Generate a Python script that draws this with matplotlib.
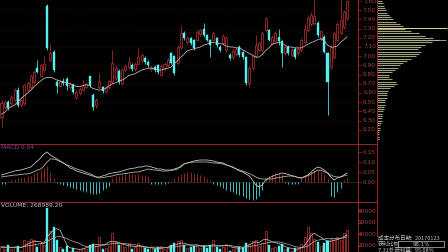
import matplotlib
matplotlib.use("Agg")
import matplotlib.pyplot as plt
from matplotlib.lines import Line2D
from matplotlib.transforms import blended_transform_factory

# ---- candle data ----
opens = [6.34, 6.45, 6.50, 6.49, 6.52, 6.63, 6.47, 6.49, 6.63, 6.66,
         6.72, 6.87, 6.79, 6.85, 7.55, 6.96, 7.05, 6.72, 6.68, 6.73,
         6.75, 6.66, 6.69, 6.56, 6.60, 6.63, 6.67, 6.78, 6.58, 6.47,
         6.66, 6.66, 6.62, 6.66, 6.72, 6.76, 6.84, 6.71, 6.85, 6.88,
         6.90, 6.86, 6.92, 6.96, 6.98, 6.94, 6.86,
         6.88, 6.90, 6.80, 6.87, 6.90, 7.03, 7.00, 6.93, 7.10, 7.25,
         7.15, 7.20, 7.18, 7.18, 7.24, 7.30, 7.23, 7.18, 7.18, 7.20,
         7.10, 7.14, 7.07, 7.01, 6.99, 7.02, 7.10, 7.05, 6.99, 6.71,
         6.87, 7.00, 7.07, 7.07, 7.28, 7.28, 7.14, 7.17, 7.21, 7.16,
         7.03, 7.10, 7.01, 7.08, 7.03, 7.07, 7.15, 7.28, 7.35, 7.36,
         7.36, 7.19, 7.21, 7.03, 6.88, 6.99, 7.18, 7.25, 7.32, 7.41]
highs = [6.52, 6.52, 6.52, 6.58, 6.65, 6.66, 6.54, 6.70, 6.73, 6.81,
         6.85, 6.96, 6.93, 7.00, 7.57, 7.13, 7.07, 6.75, 6.75, 6.76,
         6.77, 6.72, 6.71, 6.63, 6.66, 6.74, 6.72, 6.79, 6.60, 6.55,
         6.82, 6.68, 6.68, 6.75, 7.07, 6.90, 6.86, 6.87, 6.91, 6.99,
         6.93, 6.94, 7.09, 7.03, 7.00, 6.96, 6.90,
         6.90, 6.92, 6.91, 6.94, 6.98, 7.05, 7.01, 7.12, 7.34, 7.27,
         7.22, 7.21, 7.19, 7.28, 7.30, 7.36, 7.24, 7.19, 7.27, 7.21,
         7.12, 7.24, 7.22, 7.03, 7.08, 7.10, 7.12, 7.06, 7.00, 6.89,
         7.02, 7.23, 7.16, 7.27, 7.43, 7.30, 7.23, 7.27, 7.30, 7.18,
         7.12, 7.12, 7.09, 7.10, 7.10, 7.20, 7.35, 7.45, 7.48, 7.61,
         7.38, 7.29, 7.23, 7.05, 7.12, 7.27, 7.37, 7.61, 7.50, 7.61]
lows = [6.23, 6.43, 6.42, 6.47, 6.50, 6.45, 6.45, 6.47, 6.61, 6.64,
        6.70, 6.82, 6.77, 6.83, 7.07, 6.94, 6.83, 6.60, 6.66, 6.69,
        6.63, 6.64, 6.59, 6.54, 6.58, 6.62, 6.65, 6.67, 6.42, 6.44,
        6.64, 6.60, 6.60, 6.64, 6.70, 6.74, 6.70, 6.69, 6.83, 6.86,
        6.84, 6.84, 6.90, 6.94, 6.92, 6.88, 6.84,
        6.83, 6.81, 6.78, 6.85, 6.88, 6.91, 6.80, 6.90, 7.08, 7.18,
        7.13, 7.12, 7.07, 7.16, 7.22, 7.21, 7.16, 6.99, 7.16, 7.10,
        7.05, 7.12, 7.05, 6.96, 6.97, 7.00, 6.99, 6.97, 6.69, 6.67,
        6.85, 6.98, 7.05, 7.05, 7.26, 7.16, 7.12, 7.15, 7.12, 6.88,
        7.01, 7.01, 6.99, 6.97, 7.01, 7.05, 7.13, 7.26, 7.33, 7.34,
        7.21, 7.17, 7.03, 6.36, 6.86, 6.97, 7.16, 7.23, 7.30, 7.39]
closes = [6.49, 6.50, 6.44, 6.56, 6.63, 6.47, 6.52, 6.69, 6.71, 6.79,
          6.83, 6.83, 6.90, 6.92, 7.09, 7.03, 6.85, 6.68, 6.73, 6.71,
          6.68, 6.70, 6.61, 6.61, 6.64, 6.68, 6.70, 6.69, 6.45, 6.52,
          6.72, 6.62, 6.66, 6.73, 6.93, 6.87, 6.72, 6.85, 6.89, 6.94,
          6.86, 6.92, 6.99, 7.01, 6.94, 6.90, 6.88,
          6.85, 6.83, 6.89, 6.92, 6.96, 6.93, 6.82, 7.10, 7.25, 7.20,
          7.20, 7.14, 7.09, 7.26, 7.28, 7.23, 7.18, 7.12, 7.25, 7.12,
          7.07, 7.22, 7.20, 6.98, 7.06, 7.08, 7.01, 6.99, 6.71, 6.87,
          7.00, 7.12, 7.14, 7.25, 7.41, 7.18, 7.21, 7.25, 7.16, 7.03,
          7.10, 7.03, 7.07, 6.99, 7.08, 7.18, 7.30, 7.42, 7.45, 7.44,
          7.23, 7.27, 7.05, 6.72, 7.10, 7.25, 7.35, 7.39, 7.48, 7.60]
ma_line = [6.37, 6.39, 6.43, 6.45, 6.47, 6.50, 6.54, 6.57, 6.60, 6.63,
           6.67, 6.70, 6.73, 6.76, 6.77, 6.77, 6.76, 6.74, 6.73, 6.72,
           6.71, 6.70, 6.69, 6.67, 6.67, 6.68, 6.69, 6.68, 6.65, 6.64,
           6.63, 6.64, 6.65, 6.68, 6.70, 6.71, 6.73, 6.74, 6.76, 6.79,
           6.80, 6.81, 6.83, 6.85, 6.86, 6.87, 6.87, 6.86, 6.85, 6.85,
           6.86, 6.87, 6.88, 6.92, 6.95, 6.99, 7.02, 7.06, 7.07, 7.08,
           7.09, 7.10, 7.12, 7.13, 7.15, 7.15, 7.14, 7.14, 7.13, 7.11,
           7.10, 7.10, 7.09, 7.09, 7.07, 7.05, 7.03, 7.01, 6.99, 6.99,
           7.02, 7.06, 7.09, 7.13, 7.14, 7.15, 7.14, 7.12, 7.10, 7.10,
           7.09, 7.09, 7.09, 7.11, 7.13, 7.15, 7.16, 7.18, 7.19, 7.17,
           7.12, 7.10, 7.10, 7.11, 7.15, 7.18, 7.21]

# ---- MACD ----
dif = [0.035, 0.040, 0.045, 0.050, 0.055, 0.058, 0.060, 0.065, 0.070, 0.075,
       0.090, 0.105, 0.120, 0.140, 0.150, 0.135, 0.125, 0.115, 0.105, 0.095,
       0.085, 0.070, 0.065, 0.055, 0.050, 0.045, 0.040, 0.035, 0.030, 0.025,
       0.025, 0.030, 0.035, 0.042, 0.045, 0.048, 0.050, 0.055, 0.060, 0.065,
       0.068, 0.070, 0.075, 0.075, 0.080, 0.080, 0.075, 0.070, 0.065, 0.065,
       0.060, 0.060, 0.060, 0.065, 0.070, 0.075, 0.090, 0.095, 0.100, 0.105,
       0.108, 0.110, 0.110, 0.110, 0.108, 0.105, 0.100, 0.098, 0.095, 0.085,
       0.080, 0.075, 0.065, 0.055, 0.050, 0.040, 0.030, 0.010, -0.015, -0.025,
       -0.015, 0.010, 0.020, 0.028, 0.035, 0.040, 0.045, 0.042, 0.038, 0.032,
       0.028, 0.022, 0.020, 0.028, 0.035, 0.050, 0.065, 0.075, 0.070, 0.060,
       0.045, 0.025, 0.010, 0.020, 0.025, 0.035, 0.045]
dea = [0.025, 0.028, 0.030, 0.032, 0.035, 0.035, 0.038, 0.040, 0.040, 0.045,
       0.052, 0.060, 0.065, 0.080, 0.100, 0.115, 0.115, 0.110, 0.102, 0.095,
       0.085, 0.080, 0.072, 0.065, 0.060, 0.055, 0.048, 0.042, 0.035, 0.025,
       0.020, 0.022, 0.025, 0.028, 0.030, 0.035, 0.038, 0.040, 0.042, 0.045,
       0.048, 0.050, 0.050, 0.055, 0.060, 0.065, 0.062, 0.060, 0.058, 0.055,
       0.055, 0.055, 0.058, 0.060, 0.065, 0.080, 0.090, 0.095, 0.098, 0.100,
       0.100, 0.100, 0.100, 0.100, 0.098, 0.095, 0.095, 0.092, 0.090, 0.085,
       0.080, 0.072, 0.065, 0.060, 0.055, 0.048, 0.042, 0.035, 0.025, 0.018,
       0.015, 0.015, 0.015, 0.015, 0.020, 0.022, 0.025, 0.028, 0.030, 0.030,
       0.028, 0.022, 0.020, 0.025, 0.032, 0.040, 0.050, 0.060, 0.058, 0.052,
       0.045, 0.035, 0.028, 0.025, 0.025, 0.030, 0.035]
macd_hist = [-0.008, -0.008, 0.005, 0.010, 0.015, 0.018, 0.020, 0.025, 0.028, 0.030,
             0.040, 0.050, 0.060, 0.070, 0.080, 0.050, 0.020, -0.005, -0.010, -0.015,
             -0.020, -0.025, -0.030, -0.035, -0.040, -0.045, -0.050, -0.055, -0.060, -0.060,
             -0.055, -0.040, -0.030, -0.020, 0.020, 0.030, 0.030, 0.035, 0.040, 0.040,
             0.040, 0.040, 0.040, 0.035, 0.035, 0.030, -0.010, -0.010, -0.010, -0.010,
             -0.008, -0.005, 0.005, 0.020, 0.030, 0.040, 0.045, 0.050, 0.050, 0.045,
             0.040, 0.035, 0.030, 0.020, 0.010, -0.010, -0.015, -0.020, -0.030, -0.040,
             -0.045, -0.050, -0.060, -0.065, -0.070, -0.080, -0.085, -0.090, -0.085, -0.070,
             -0.040, 0.020, 0.030, 0.040, 0.045, 0.045, 0.040, -0.005, -0.010, -0.010,
             -0.010, -0.010, 0.020, 0.030, 0.040, 0.050, 0.060, 0.060, 0.050, 0.035,
             0.020, -0.070, -0.075, -0.050, -0.030, 0.010, 0.020]

# ---- volume (thousands) ----
volume = [20, 15, 22, 14, 18, 20, 12, 30, 28, 32,
          30, 18, 26, 22, 85, 45, 52, 30, 18, 15,
          20, 12, 16, 12, 14, 16, 15, 22, 24, 20,
          36, 14, 16, 20, 42, 28, 22, 24, 18, 26,
          14, 18, 26, 20, 16, 14, 18,
          14, 18, 20, 14, 16, 22, 26, 28, 30, 22,
          16, 18, 20, 22, 16, 20, 16, 22, 30, 18,
          14, 18, 24, 12, 14, 16, 18, 16, 26, 24,
          28, 30, 20, 26, 46, 22, 16, 18, 20, 24,
          14, 16, 12, 16, 14, 24, 36, 52, 42, 32,
          27, 20, 26, 28, 32, 30, 36, 30, 42, 48]
vol_ma5 = [18, 18, 18, 17, 18, 18, 17, 20, 23, 26, 28, 28, 27, 25,
           36, 42, 48, 50, 47, 35, 22,
           17, 16, 15, 14, 15, 17, 19, 21, 23, 22,
           22, 23, 27, 28, 27, 26, 24, 22, 20, 20, 19, 20, 19, 18, 17, 17,
           16, 16, 16, 17, 18, 20, 21, 23, 25, 25, 23, 21, 20, 20, 20, 19, 20, 21, 22, 21,
           20, 21, 21, 20, 17, 17, 16, 17, 20, 22, 25, 27, 26, 30, 32, 30, 27, 26, 24, 22,
           19, 17, 16, 14, 15, 17, 21, 29, 38, 42, 38, 35, 31, 29, 28, 30, 31, 33, 36, 39]
vol_ma10 = [18, 18, 18, 18, 18, 18, 18, 19, 20, 21, 22, 23, 24, 24,
            28, 31, 34, 36, 36, 35, 33,
            30, 28, 26, 24, 21, 19, 18, 18, 19, 20,
            21, 22, 23, 24, 24, 24, 24, 24, 23, 22, 22, 21, 20, 19, 18, 18,
            18, 18, 17, 17, 17, 18, 18, 19, 20, 21, 22, 22, 22, 22, 21, 21, 20, 20, 20, 20,
            20, 20, 21, 21, 20, 19, 19, 18, 18, 19, 20, 21, 22, 24, 25, 26, 27, 27, 27, 26,
            24, 23, 21, 19, 18, 17, 18, 20, 24, 28, 30, 31, 32, 33, 33, 33, 33, 33, 34, 36]

# ---- chip (cost) distribution ----
chip_price = [7.600, 7.575, 7.550, 7.525, 7.500, 7.475, 7.450, 7.425, 7.400, 7.375,
              7.350, 7.325, 7.300, 7.275, 7.250, 7.225, 7.200, 7.175, 7.150, 7.125,
              7.100, 7.075, 7.050, 7.025, 7.000, 6.975, 6.950, 6.925, 6.900, 6.875,
              6.850, 6.825, 6.800, 6.775, 6.750, 6.725, 6.700, 6.675, 6.650, 6.625,
              6.600, 6.575, 6.550, 6.525, 6.500, 6.475, 6.450, 6.425, 6.400, 6.375,
              6.350, 6.325, 6.300, 6.275, 6.250, 6.225, 6.200, 6.175, 6.150, 6.125, 6.100]
chip_len = [5, 6, 7, 8, 9, 10, 12, 14, 16, 19,
            23, 26, 28, 34, 42, 48, 56, 62, 55, 48,
            44, 41, 44, 42, 39, 34, 30, 26, 23, 21,
            18, 15, 12, 12, 15, 19, 20, 17, 13, 11,
            10, 10, 10, 8, 8, 8, 7, 7, 6, 5,
            5, 5, 5, 4, 3, 3, 3, 2, 2, 2, 2]
cursor_price = 7.31
avg_cost = 7.18

price_ticks = [7.60, 7.50, 7.40, 7.30, 7.20, 7.10, 7.00, 6.90, 6.80, 6.70,
               6.60, 6.50, 6.40, 6.30, 6.20]
macd_ticks = [0.15, 0.10, 0.05, 0.00]
vol_ticks = [80, 60, 40, 20]

UP = "#b02e2e"
DOWN = "#56f0f0"
AXIS_RED = "#9c2424"
LABEL = "#a84040"
TXT = "#c0c0c0"
W, H = 448, 252

fig = plt.figure(figsize=(W / 100, H / 100), dpi=100, facecolor="black")


def px_axes(x0, y0, x1, y1):
    # axes placed by pixel box (top-left origin)
    ax = fig.add_axes([x0 / W, 1 - y1 / H, (x1 - x0) / W, (y1 - y0) / H])
    ax.set_facecolor("none")
    ax.axis("off")
    return ax


n = len(closes)
xs = list(range(n))
step = 3.26
xlim = (-1.5 / step, (358 - 1.5) / step)

ax_p = px_axes(0, 0, 358, 144)
ax_m = px_axes(0, 144, 358, 202)
ax_v = px_axes(0, 202, 358, 252)
ax_c = px_axes(377, 0, 448, 144)

for ax in (ax_p, ax_m, ax_v):
    ax.set_xlim(*xlim)
ax_p.set_ylim(7.60 - 143 / 92, 7.60 + 1 / 92)
ax_c.set_ylim(7.60 - 143 / 92, 7.60 + 1 / 92)
ax_m.set_ylim(-0.10, 0.19)
ax_v.set_ylim(9.65, 95.85)

# dotted grid in price panel
for p in price_ticks[1::2]:
    ax_p.axhline(p, color="#4a1010", lw=0.5, ls=(0, (1, 2)), zorder=0)

# candles
bw = 0.62
for i in xs:
    o, h, l, c = opens[i], highs[i], lows[i], closes[i]
    col = UP if c >= o else DOWN
    ax_p.vlines(i, l, h, color=col, lw=0.55, zorder=2)
    lo, hi = min(o, c), max(o, c)
    if c >= o:
        ax_p.bar(i, max(hi - lo, 0.004), bottom=lo, width=bw, facecolor="black",
                 edgecolor=col, lw=0.55, zorder=3)
    else:
        ax_p.bar(i, max(hi - lo, 0.004), bottom=lo, width=bw, facecolor=col,
                 edgecolor=col, lw=0.3, zorder=3)
ax_p.plot(xs, ma_line, color="#c0c0c0", lw=0.55, zorder=4)

# MACD panel
ax_m.axhline(0, color="#3a3a3a", lw=0.4)
for i in xs:
    v = macd_hist[i]
    ax_m.vlines(i, 0, v, color=UP if v >= 0 else DOWN, lw=0.55)
ax_m.plot(xs, dif, color="#d0d0d0", lw=0.55)
ax_m.plot(xs, dea, color="#c0c0a4", lw=0.55)

# volume panel
for i in xs:
    up = closes[i] >= opens[i]
    col = UP if up else DOWN
    ax_v.bar(i, volume[i], width=bw, facecolor="black" if up else col,
             edgecolor=col, lw=0.55 if up else 0.3)
ax_v.plot(xs, vol_ma5, color="#c8c8c8", lw=0.5)
ax_v.plot(xs, vol_ma10, color="#b8b89c", lw=0.5)

# chip distribution
ax_c.set_xlim(0, 71)
ax_c.hlines(chip_price, 0, chip_len, color="#a0a07c", lw=0.8)
ax_c.hlines(cursor_price, 0, 70, color="#dcdc9c", lw=0.7)
ax_c.hlines(avg_cost, 0, 69, color="#b0b0a8", lw=0.6)

# right-side scales
tx = 376 / W
for ax, ticks, fmt in ((ax_p, price_ticks, "{:.2f}"), (ax_m, macd_ticks, "{:.2f}"),
                       (ax_v, vol_ticks, "{:d}000")):
    tr = blended_transform_factory(fig.transFigure, ax.transData)
    for t in ticks:
        ax.text(tx, t, fmt.format(t), transform=tr, ha="right", va="center",
                color=LABEL, fontsize=4.2, clip_on=False)
        ax.add_line(Line2D([358 / W, 361 / W], [t, t], transform=tr, color=AXIS_RED,
                           lw=0.5, clip_on=False))

# frame lines
for x0, y0, x1, y1 in ((358, 0, 358, 252), (377, 0, 377, 236),
                       (0, 144, 377, 144), (0, 202, 377, 202)):
    fig.add_artist(Line2D([x0 / W, x1 / W], [1 - y0 / H, 1 - y1 / H],
                          color=AXIS_RED, lw=0.7))

# panel captions
fig.text(1 / W, 1 - 147.5 / H, "MACD 0.04", color="#9a3cac", fontsize=4.3, va="center")
fig.text(1 / W, 1 - 205.5 / H, "VOLUME: 268989.20", color=TXT, fontsize=4.3,
         va="center")

# cost distribution info box
cjk = ["Noto Sans CJK SC", "DejaVu Sans"]
fig.text(378 / W, 1 - 238 / H, "成本分布日期:  20170123", color=TXT,
         fontsize=4.0, family=cjk, va="center")
fig.text(378 / W, 1 - 244 / H, "获利比例", color=TXT, fontsize=4.0,
         family=cjk, va="center")
fig.add_artist(plt.Rectangle((398 / W, 1 - 247 / H), 46 / W, 6 / H, fill=False,
                             edgecolor=TXT, lw=0.5, transform=fig.transFigure))
fig.text(421 / W, 1 - 244 / H, "98.1%", color=TXT, fontsize=4.0,
         ha="center", va="center")
fig.text(378 / W, 1 - 249.5 / H, "7.31处获利盘:  95.08%", color=TXT,
         fontsize=4.0, family=cjk, va="center")

fig.savefig("out.png", dpi=100, facecolor="black")
